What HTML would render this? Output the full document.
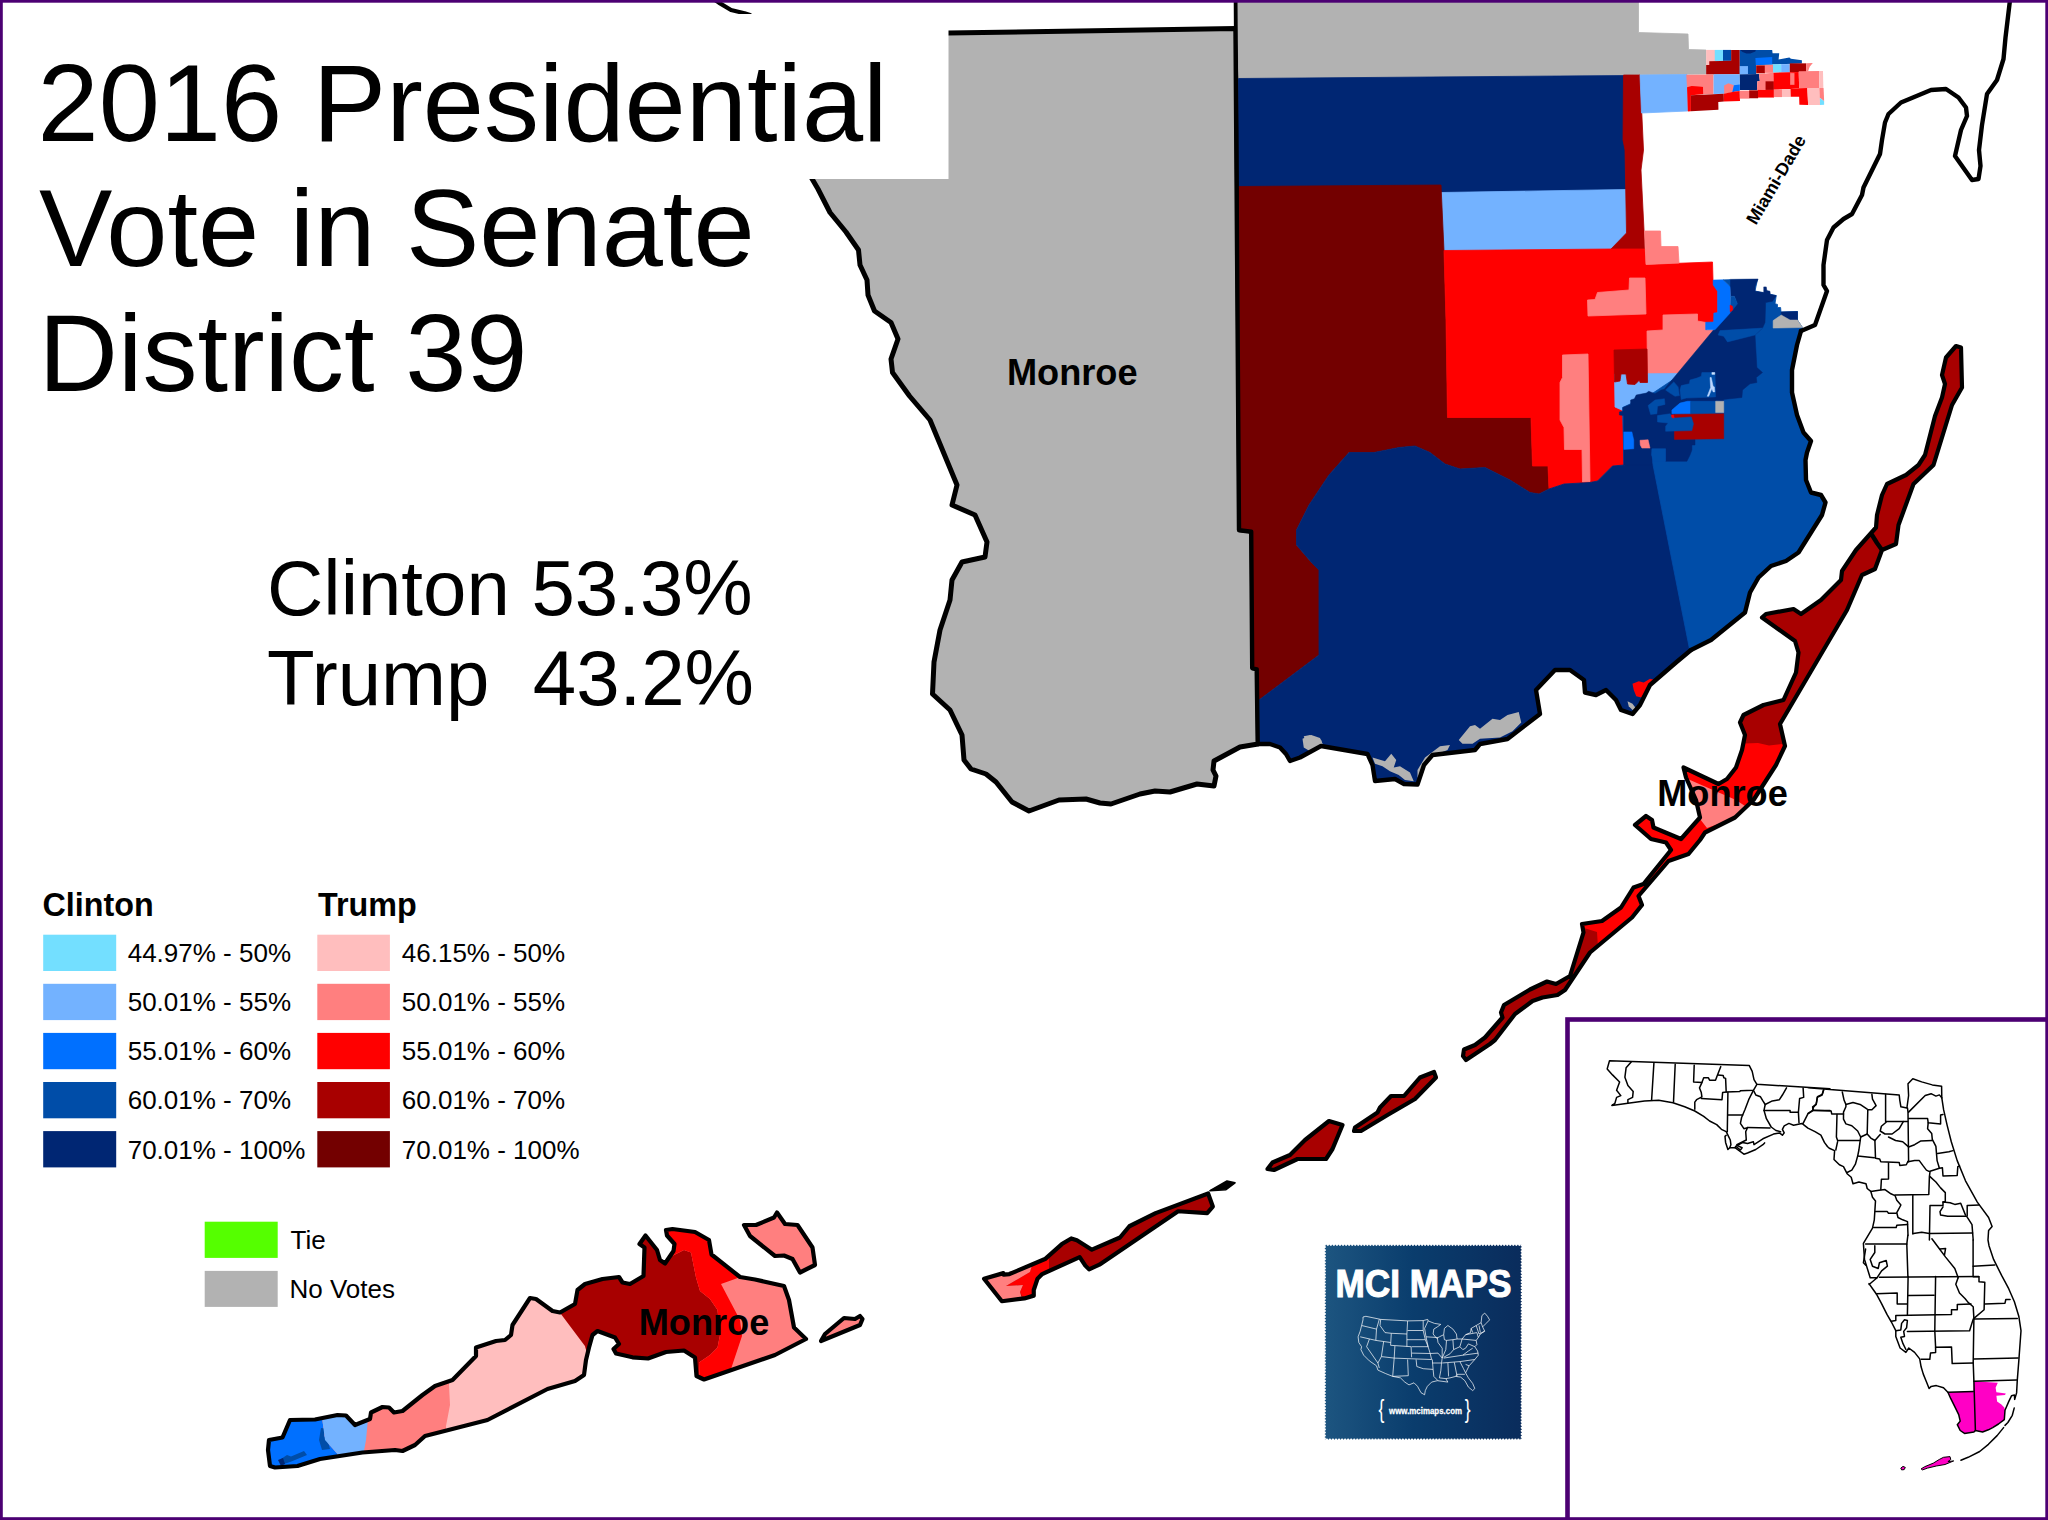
<!DOCTYPE html>
<html lang="en"><head><meta charset="utf-8"><title>2016 Presidential Vote in Senate District 39</title>
<style>
html,body{margin:0;padding:0;background:#fff;}
body{width:2048px;height:1520px;overflow:hidden;font-family:"Liberation Sans",sans-serif;}
svg{display:block;}
text{font-family:"Liberation Sans",sans-serif;fill:#000;}
.b{font-weight:bold;}
.o{stroke:#000;stroke-width:4.4;stroke-linejoin:round;stroke-linecap:round;}
.k{stroke:#000;stroke-width:4.2;stroke-linejoin:round;stroke-linecap:round;}
.c{fill:none;stroke:#000;stroke-width:1.5;stroke-linejoin:round;stroke-linecap:round;}
</style></head><body>
<svg width="2048" height="1520" viewBox="0 0 2048 1520">
<rect width="2048" height="1520" fill="#fff"/>
<g id="mainland">
<polyline class="k" points="712,-2 718.8,2.6 731,10 744.5,13.2 750,15" fill="none"/>
<polygon class="k" points="770,33.5 948,33 1235.8,28.5 1239.3,530 1251.5,531.5 1252.5,668 1257,669 1258,744 1240,747 1214,761 1213,770 1216,776 1214,786 1197,784 1170,792 1155,791 1140,794 1111,804 1100,803 1086,799 1059,800 1029,811 1012,802 996,782 986,774 971,769 964,760 962,735 950,710 932.5,694 934,662 940,630 950,600 952,580 962,562 985,557 987,542 975,515 952,505 957,485 930,420 909.5,396 892.5,372.5 891,359 898,339 891,322.5 874.5,311 868,295 867,280 860,265 858.5,250 846,232 830,212.5 818,189 812,178.75 800,160 780,120 770,80 770,33" fill="#B2B2B2" style="stroke-width:5"/>
<polygon stroke="#B2B2B2" stroke-width="0.8" stroke-linejoin="round" points="1236,0 1638.5,0 1638.5,32.5 1688,34 1688.5,49.5 1706,50 1706,74 1239,79.5" fill="#B2B2B2"/>
<polygon stroke="#002673" stroke-width="0.8" stroke-linejoin="round" points="1238.5,78.5 1624,75.5 1626,191 1441,193.5 1441,186 1239,188" fill="#002673"/>
<polygon stroke="#73B2FF" stroke-width="0.8" stroke-linejoin="round" points="1441,192.5 1626,189.5 1626.5,234 1611,249.5 1443,252" fill="#73B2FF"/>
<polygon stroke="#A80000" stroke-width="0.8" stroke-linejoin="round" points="1623.5,75 1640,75 1643.5,150 1641,170 1645,250 1610,250 1626.5,233 1625,150 1623,140" fill="#A80000"/>
<polygon stroke="#73B2FF" stroke-width="0.8" stroke-linejoin="round" points="1640,75 1687,74.5 1687.5,111 1641.5,113" fill="#73B2FF"/>
<polygon stroke="#730000" stroke-width="0.8" stroke-linejoin="round" points="1239,186.5 1441,185 1444,251 1446,320 1447.5,417.5 1531,417.5 1532.5,466 1548,466 1549,489 1539,494 1530,492.5 1510,480 1485,467.5 1460,469 1445,464 1430,452.5 1415,446 1399,447.5 1374,452.5 1349,452.5 1329,475 1309,505 1296.5,530 1296.5,545 1311.5,562.5 1319,570 1319,655 1259,700 1257.6,702 1257,669 1252.5,668 1251.5,531.5 1239.3,530" fill="#730000"/>
<polygon stroke="#FF0000" stroke-width="0.8" stroke-linejoin="round" points="1444,250.5 1611,249 1645,249 1646,264.5 1712.5,262 1713,280 1717.5,291 1717.5,312.5 1714,314 1714,321 1706,330 1677.5,373.5 1647.5,374 1647.5,383 1615,383 1615,406 1622.5,407.5 1624,465 1612.5,466 1597.5,481 1590,482.5 1564,484 1549,489 1548,466 1532.5,466 1531,417.5 1447.5,417.5 1446,320" fill="#FF0000"/>
<polygon stroke="#FF7F7F" stroke-width="0.8" stroke-linejoin="round" points="1644.5,231 1660.5,231 1661,246.5 1678,246.5 1679,263 1646,264.5" fill="#FF7F7F"/>
<polygon stroke="#FF7F7F" stroke-width="0.8" stroke-linejoin="round" points="1587.5,300 1595,299.5 1597.5,292.5 1629,290 1629.5,278 1645,278 1646,314 1588,316" fill="#FF7F7F"/>
<polygon stroke="#FF7F7F" stroke-width="0.8" stroke-linejoin="round" points="1663,315 1697.5,314 1697.5,321 1706,322.5 1706,330 1714.5,330 1677.5,373.5 1647.5,374 1647,331 1663,330" fill="#FF7F7F"/>
<polygon stroke="#FF7F7F" stroke-width="0.8" stroke-linejoin="round" points="1562.5,355 1588,354 1590,481.5 1582.5,482 1582,449.5 1564.5,449.5 1564,427.5 1560,420 1560,382.5 1562.5,377.5" fill="#FF7F7F"/>
<polygon stroke="#FF7F7F" stroke-width="0.8" stroke-linejoin="round" points="1640,440 1649,440 1650,449 1644,449" fill="#FF7F7F"/>
<polygon stroke="#73B2FF" stroke-width="0.8" stroke-linejoin="round" points="1614.5,374 1677.5,373.5 1665,390 1640,402 1624,411 1615,407" fill="#73B2FF"/>
<polygon stroke="#A80000" stroke-width="0.8" stroke-linejoin="round" points="1614,350 1647,349 1647.5,382.5 1640,382.5 1639.5,380 1635,384.5 1627.5,384 1626,374 1621,374 1620,381 1614.5,382" fill="#A80000"/>
<polygon stroke="#002673" stroke-width="0.8" stroke-linejoin="round" points="1259,700 1259,700 1319,655 1319,570 1311.5,562.5 1296.5,545 1296.5,530 1309,505 1329,475 1349,452.5 1374,452.5 1399,447.5 1415,446 1430,452.5 1445,464 1460,469 1485,467.5 1510,480 1530,492.5 1539,494 1549,489 1564,484 1590,482.5 1597.5,481 1612.5,466 1624,465 1651,449.5 1691,650 1676,662.5 1650,685 1640,705 1632.5,714 1621,710 1616,700 1606,690 1596,695 1585,692.5 1584,680 1570,670 1555,670 1536,690 1540,714 1507.5,739 1480,744 1475,750 1432.5,755 1424,765 1417.5,784.5 1404,784 1395,779 1375,781 1372.5,765 1367.5,754 1321,746 1300,757.5 1290,761 1286,754 1280,747.5 1270,744 1258,744 1257.6,702" fill="#002673"/>
<polygon stroke="#004DA8" stroke-width="0.8" stroke-linejoin="round" points="1650,449.5 1624,465 1622.5,407.5 1650,395 1680,375 1716,332 1738,305 1731,280 1757.5,279.5 1755,291 1776.25,295.6 1775,303.75 1777.5,304.4 1777.5,307.5 1780.6,307.5 1781,312 1797.5,311.5 1797.5,320 1802.5,327.5 1797,345 1792,370 1792,392.5 1797,415 1803.5,432.5 1811,441 1807,452.5 1805.5,460 1806,480 1811,492.5 1821,495 1825.5,502.5 1822,515 1798.5,552.5 1786,561 1771,566 1758.5,577.5 1750,592.5 1745,612.5 1711,640 1689.8,650.5" fill="#004DA8"/>
</g>
<g id="cluster">
<polygon points="1730,279.38 1758.12,279 1755,286.25 1755,291.25 1763.75,292.5 1763.75,286.88 1766.25,286.88 1766.88,290.62 1770,291.25 1770.25,294.38 1776.25,295.62 1772.5,301.25 1765.62,302.5 1765,322.5 1762.5,328.12 1755,335 1756.88,367.5 1762.5,372.5 1756.25,377.5 1756.88,382.5 1750,383.75 1742.5,390 1741.88,397.5 1730,398.75 1723.75,399.38 1723.12,401.25 1715.62,400.62 1715.62,401.25 1687.5,401.25 1680,403.12 1671.88,410 1671.88,413.75 1674.38,413.75 1674.38,439.38 1695,439.38 1695,445 1691.88,445 1691.88,450 1690,455 1686.88,461.25 1665.62,461.25 1665.62,448.75 1651.88,448.75 1651.88,465 1623.75,465 1623.75,415.62 1619.38,415 1619.38,411.88 1623.12,411.25 1623.12,407.5 1630.62,404.38 1630.62,400 1634.38,398.75 1636.25,395 1646.25,393.12 1648.75,391.25 1655,393.75 1661.25,390 1664.25,389.25 1714.25,329 1737,303.25 1734.38,296.25 1730.62,296.25 1730,286.25" fill="#002673" stroke="#002673" stroke-width="0.5" stroke-linejoin="round"/>
<polygon points="1720,330.62 1762.5,328.12 1755,335 1727.5,341.88 1723.75,336.25 1718.12,335" fill="#004DA8" stroke="#004DA8" stroke-width="0.5" stroke-linejoin="round"/>
<polygon points="1665.62,390 1673.75,381.88 1678.12,386.88 1679.38,395.62 1675,396.25 1670,393.12" fill="#004DA8" stroke="#004DA8" stroke-width="0.5" stroke-linejoin="round"/>
<polygon points="1681.25,385.62 1689.38,383.75 1690,380 1696.88,378.12 1701.25,376.25 1701.88,372.5 1715,372.5 1715.62,396.88 1686.25,398.12 1681.25,399.38 1680,390" fill="#004DA8" stroke="#004DA8" stroke-width="0.5" stroke-linejoin="round"/>
<polygon points="1711.88,372.5 1714.75,372.5 1714.75,374.38 1711.88,374.38" fill="#CFE3FF" stroke="#CFE3FF" stroke-width="0.5" stroke-linejoin="round"/>
<polygon points="1710,377.5 1711.25,377.5 1713.12,386.25 1714.38,386.88 1714.75,391.88 1713.12,391.88 1711.88,388.75 1708.75,396.25 1707.25,396.25 1710.62,387.5" fill="#BBD6FF" stroke="#BBD6FF" stroke-width="0.5" stroke-linejoin="round"/>
<polygon points="1671.88,410 1680,403.12 1687.5,401.25 1690.62,401.25 1690.62,413.75 1671.88,413.75" fill="#0070FF" stroke="#0070FF" stroke-width="0.5" stroke-linejoin="round"/>
<polygon points="1690.62,401.25 1715.62,401.25 1715.62,412.5 1723.75,412.5 1723.75,413.75 1690.62,413.75" fill="#004DA8" stroke="#004DA8" stroke-width="0.5" stroke-linejoin="round"/>
<polygon points="1715.62,401.25 1723.75,401.25 1723.75,412.5 1715.62,412.5" fill="#B2B2B2" stroke="#B2B2B2" stroke-width="0.5" stroke-linejoin="round"/>
<polygon points="1674.38,414.38 1723.75,413.75 1723.75,438.75 1674.38,439.38" fill="#A80000" stroke="#A80000" stroke-width="0.5" stroke-linejoin="round"/>
<polygon points="1657.5,415.62 1670,413.75 1675,418.12 1691.25,416.88 1693.5,423.75 1691.88,430.62 1665.62,431.25 1665.62,426.25 1668.12,423.12 1657.5,421.88" fill="#004DA8" stroke="#004DA8" stroke-width="0.5" stroke-linejoin="round"/>
<polygon points="1671.25,415 1673.75,414.75 1674,418.12 1671.88,417.5" fill="#FF0000" stroke="#FF0000" stroke-width="0.5" stroke-linejoin="round"/>
<polygon points="1648.12,405.62 1655,400 1664.38,398.75 1665,404.38 1657.5,406.25 1656.88,413.75 1650.62,414.38" fill="#004DA8" stroke="#004DA8" stroke-width="0.5" stroke-linejoin="round"/>
<polygon points="1651.88,448.75 1665.62,448.75 1665.62,461.25 1653.75,461.25 1651.5,455" fill="#004DA8" stroke="#004DA8" stroke-width="0.5" stroke-linejoin="round"/>
<polygon points="1623.75,431.88 1631.88,431.88 1633.75,440 1633.75,448.75 1623.75,449.38" fill="#0070FF" stroke="#0070FF" stroke-width="0.5" stroke-linejoin="round"/>
<polygon points="1640,440.25 1648.12,439.75 1650,448.12 1641.88,448.12 1640.25,445" fill="#FF7F7F" stroke="#FF7F7F" stroke-width="0.5" stroke-linejoin="round"/>
<polygon points="1713.12,280 1723.12,279.75 1730,286.25 1730.62,312.5 1715,329.75 1705.62,329.75 1705.62,322.25 1713.5,321.88 1713.75,313.12 1717.5,312.5 1717.5,291.25 1713.12,285" fill="#0070FF" stroke="#0070FF" stroke-width="0.5" stroke-linejoin="round"/>
<polygon points="1723.12,279.75 1730,279.5 1730,286.25" fill="#004DA8" stroke="#004DA8" stroke-width="0.5" stroke-linejoin="round"/>
<polygon points="1730.62,296.25 1734.38,296.25 1737.5,303.75 1730.62,312.5" fill="#004DA8" stroke="#004DA8" stroke-width="0.5" stroke-linejoin="round"/>
<polygon points="1730,305 1732.5,306.25 1732.75,310 1730.25,311.88" fill="#FF0000" stroke="#FF0000" stroke-width="0.5" stroke-linejoin="round"/>
<polygon points="1781.25,311.88 1797.5,311.5 1797.5,320 1790,320 1781.25,315" fill="#002673" stroke="#002673" stroke-width="0.5" stroke-linejoin="round"/>
<polygon points="1773.12,320.62 1781.25,315 1790,320 1797.5,320 1802.5,327.5 1773.12,328.12" fill="#B2B2B2" stroke="#B2B2B2" stroke-width="0.5" stroke-linejoin="round"/>
</g>
<g id="mosaic">
<polygon points="1706.17,49.91 1715.16,49.91 1715.16,65.06 1706.17,65.06" fill="#FFBEBE"/>
<polygon points="1714.77,49.91 1723.12,49.91 1723.12,61.16 1714.77,61.16" fill="#73DFFF"/>
<polygon points="1722.97,49.91 1731.33,49.91 1731.33,60.84 1722.97,60.84" fill="#004DA8"/>
<polygon points="1731.17,50.06 1739.77,50.06 1739.77,74.28 1706.17,74.44 1706.17,65.06 1709.3,64.91 1709.3,61.16 1731.17,60.69" fill="#A80000"/>
<polygon points="1739.77,49.91 1772.19,49.91 1772.58,53.34 1779.22,53.19 1778.59,59.44 1789.38,57.48 1790.94,58.66 1801.88,60.22 1801.88,63.5 1756.17,65.06 1756.17,74.28 1739.77,74.44" fill="#004DA8"/>
<polygon points="1740.16,49.91 1755.78,49.91 1755.39,51.62 1750.31,53.58 1746.41,53.58 1742.5,52.02" fill="#002673"/>
<polygon points="1755.39,57.88 1772.19,57.09 1772.19,64.28 1755.78,65.06" fill="#0070FF"/>
<polygon points="1739.77,66.08 1747.97,66.08 1747.97,74.28 1739.77,74.28" fill="#73B2FF"/>
<polygon points="1756.17,65.3 1765,65.3 1765,73.34 1756.17,73.34" fill="#A80000"/>
<polygon points="1764.77,64.91 1773.36,64.91 1773.36,72.88 1764.77,72.88" fill="#FF7F7F"/>
<polygon points="1772.97,64.28 1781.41,64.28 1781.41,72.56 1772.97,72.56" fill="#73DFFF"/>
<polygon points="1781.17,64.12 1789.77,64.12 1789.77,72.41 1781.17,72.41" fill="#73B2FF"/>
<polygon points="1789.77,63.34 1806.17,63.34 1806.17,72.09 1789.77,72.09" fill="#A80000"/>
<polygon points="1806.17,63.19 1812.81,62.95 1809.69,66.86 1808.12,71.31 1806.17,71.55" fill="#FF7F7F"/>
<polygon points="1686.25,74.83 1713.59,74.44 1713.59,93.97 1703.44,94.2 1703.05,86.78 1687.03,87.17" fill="#FF7F7F"/>
<polygon points="1687.03,87.17 1691.72,86 1703.05,86.78 1703.44,94.2 1690.94,95.22 1690.94,111.16 1687.81,111.39" fill="#FF0000"/>
<polygon points="1713.59,74.28 1739.77,74.28 1739.77,90.69 1734.69,91.62 1723.75,93.81 1713.59,93.97" fill="#73B2FF"/>
<polygon points="1724.14,85.61 1728.44,83.27 1733.91,85.22 1732.34,92.25 1724.14,93.66" fill="#FF7F7F"/>
<polygon points="1733.91,85.22 1739.77,84.59 1739.77,90.69 1734.69,91.62 1732.19,92.41" fill="#0070FF"/>
<polygon points="1739.77,74.44 1758.91,73.89 1759.53,78.19 1759.84,80.92 1757.34,81.31 1756.95,89.91 1740,90.06" fill="#002673"/>
<polygon points="1758.91,73.89 1773.36,72.72 1773.75,89.75 1756.95,90.06 1757.34,81.31 1759.84,80.92" fill="#FF7F7F"/>
<polygon points="1765.55,81.31 1773.91,81.31 1773.91,89.91 1765.55,89.91" fill="#A80000"/>
<polygon points="1773.36,72.72 1798.75,72.09 1799.14,88.19 1790.55,89.12 1773.75,89.75" fill="#FF0000"/>
<polygon points="1790.16,73.11 1794.45,73.11 1794.45,84.83 1790.16,84.83" fill="#FF7F7F"/>
<polygon points="1798.75,71.31 1819.06,71 1819.45,87.95 1799.14,88.19" fill="#FF7F7F"/>
<polygon points="1819.06,71 1822.97,71 1823.36,87.95 1819.45,87.95" fill="#FFBEBE"/>
<polygon points="1690.94,95.22 1723.75,93.81 1723.91,101.62 1718.28,102.02 1718.44,109.83 1690.94,111.16" fill="#A80000"/>
<polygon points="1723.75,93.81 1734.69,91.62 1739.77,91.08 1740,101 1723.91,101.62" fill="#FF0000"/>
<polygon points="1739.77,90.69 1749.38,90.69 1749.38,98.66 1739.77,98.66" fill="#FF7F7F"/>
<polygon points="1749.14,90.3 1758.12,90.3 1758.12,98.27 1749.14,98.27" fill="#A80000"/>
<polygon points="1757.97,89.91 1773.98,89.91 1773.98,97.56 1757.97,97.56" fill="#FF0000"/>
<polygon points="1773.75,89.52 1782.19,89.52 1782.19,97.09 1773.75,97.09" fill="#FF7F7F"/>
<polygon points="1781.95,89.12 1790.78,89.12 1790.78,96.94 1781.95,96.94" fill="#FFBEBE"/>
<polygon points="1790.55,89.12 1799.14,88.19 1807.34,87.95 1808.12,104.91 1799.38,104.75 1799.14,96.78 1790.78,96.78" fill="#FF0000"/>
<polygon points="1807.34,87.95 1819.84,87.95 1820,104.91 1808.12,104.91" fill="#FFBEBE"/>
<polygon points="1819.45,87.95 1823.59,87.95 1824.14,101.23 1819.84,97.72" fill="#FF7F7F"/>
<polygon points="1819.84,97.72 1824.14,101.23 1824.14,104.75 1820,104.91" fill="#73DFFF"/>
</g>
<g id="outlines">
<polygon points="1302.5,738.75 1311.25,735 1320,738 1323.75,746.25 1310,751.25 1303.75,747.5" fill="#B2B2B2"/>
<polygon points="1372.5,757.5 1385,761.25 1391.25,753.75 1396.25,760 1393.75,767.5 1400,766.25 1410,772.5 1413.75,781.25 1405,780 1398.75,775 1390,771.25 1382.5,766.25 1375,763.75" fill="#B2B2B2"/>
<polygon points="1417.5,770 1425,757.5 1440,746.25 1450,745 1447.5,750 1435,755 1426.25,763.75 1422.5,775 1417.5,777.5" fill="#B2B2B2"/>
<polygon points="1458.75,740 1470,726.25 1475,725 1480,728.75 1492.5,718.75 1500,720 1507.5,715 1518.75,712 1521.25,722.5 1512.5,731.25 1500,737.5 1480,738.75 1472.5,743.75 1462.5,743.75" fill="#B2B2B2"/>
<polygon points="1627.5,701.25 1632.5,703.75 1636.25,708.75 1632.5,710 1628.75,706.25" fill="#B2B2B2"/>
<polygon points="1632.5,683.75 1638.75,681.25 1643.75,682.5 1650,678.75 1655,680 1646.25,690 1641.25,697.5 1636.25,696.25 1633.75,690" fill="#FF0000"/>
<polygon points="1303.75,736.25 1310,735 1321.25,740 1322.5,746.25 1310,751.25 1306.25,743.75" fill="#B2B2B2"/>
<polyline class="o" points="1258,744 1270,744 1280,747.5 1286,754 1290,761 1300,757.5 1321,746 1367.5,754 1372.5,765 1375,781 1395,779 1404,784 1417.5,784.5 1424,765 1432.5,755 1475,750 1480,744 1507.5,739 1540,714 1536,690 1555,670 1570,670 1584,680 1585,692.5 1596,695 1606,690 1616,700 1621,710 1632.5,714 1640,705 1650,685 1676,662.5 1691,650" fill="none"/>
<polyline class="o" points="1691,650 1711,640 1745,612.5 1750,592.5 1758.5,577.5 1771,566 1786,561 1798.5,552.5 1822,515 1825.5,502.5 1821,495 1811,492.5 1806,480 1805.5,460 1807,452.5 1811,441 1803.5,432.5 1797,415 1792,392.5 1792,370 1797,345 1801,331" fill="none"/>
<polyline class="o" points="1801,331 1815,325 1827,291 1823.5,285 1823.5,265 1827,240 1833.5,227.5 1843.5,219 1852,214 1862,195 1863.5,187.5 1880,154 1882,140 1885,122.5 1888.5,114 1901,102.5 1931,90 1946,89 1958.5,97.5 1966,107.5 1967,116 1961,130 1955,156 1972,180 1978.5,179 1980.5,166 1979,150 1982,125 1987,94 1997,80 2003.5,59 2005.5,37.5 2010,0" fill="none"/>
<polyline class="k" points="1235.6,0 1235.8,28.5 1239.3,530 1251.5,531.5 1252.5,668 1257,669 1258,744" fill="none" style="stroke-width:3.8"/>
<text class="b" x="1006.9" y="385" font-size="36.2">Monroe</text>
<text class="b" transform="translate(1755.9,225.8) rotate(-59.5)" font-size="17.8">Miami-Dade</text>
</g>
<defs>
<clipPath id="ckA"><polygon points="1956,346 1946,357.5 1942,375 1945,384 1942,397.5 1935,416 1925,455 1918.5,465 1906,475 1887,484 1882,495 1877,515 1876,527.5 1856,550 1842,571 1841,580 1821,600 1801,614 1793.5,609 1766,614 1762,617.5 1795,641 1798.5,652.5 1796,672.5 1783.5,700 1763.5,705 1743.5,715 1740,722.5 1745,735 1742,750 1736,767.5 1727,779 1718.5,784 1683.5,767.5 1686,777.5 1696,800 1700,817.5 1681,839 1653.5,827.5 1652,820 1646,816 1635,825 1651,839 1666,842.5 1671,850 1643.5,884 1633.5,887.5 1621,907.5 1602,921 1582,924 1583.5,932.5 1570,976 1556,984 1547,981.5 1530,989.5 1504,1005 1501,1012.5 1502.5,1017.5 1485,1037.5 1475,1045 1464,1049.5 1463,1056 1466,1060 1490,1044 1495,1040 1515,1014 1532.5,1001 1542.5,997.5 1557.5,995 1565,990 1590,952.5 1632,917.5 1642,905 1638.5,896 1668.5,861 1688.5,854 1700,840 1705,832.5 1735,817.5 1753.5,800 1776,765 1785,746 1780,724 1847,610 1862,575 1875,569 1882,550 1896,544 1898.5,525 1913.5,484 1933.5,465 1952,405 1962,387.5 1961,347.5"/></clipPath>
<clipPath id="ckE"><polygon points="1208.13,1193.44 1155.63,1213.13 1129.38,1226.25 1120,1237.5 1091.88,1249.69 1076.88,1240.31 1071.25,1238.44 1061.88,1244.06 1045,1259.06 1009.38,1274.06 1003.75,1274.63 1003.38,1273.13 984.06,1278.75 1001.88,1301.25 1024.38,1298.44 1033.75,1295.63 1033.75,1290 1037.5,1278.75 1042.19,1274.06 1079.69,1257.19 1085.31,1265.63 1089.06,1269.38 1099.38,1264.69 1178.13,1211.25 1207.19,1213.13 1212.81,1206.56"/></clipPath>
<clipPath id="ckW"><polygon points="269,1440 282.5,1437.5 290,1420 315,1419.5 337.5,1415 346,1415.5 355,1425 370,1419 371,1412.5 382.5,1407 389,1407.5 394,1412.5 402.5,1411 422.5,1395 435,1386 452.5,1380 476,1356 476,1347.5 496,1341 505,1340 511,1335 512.5,1325 530,1298 536,1299 552.5,1311 560,1312.5 575,1304 577.5,1290 585,1284 602.5,1279 619,1277 622.5,1282.5 630,1284 643.5,1276 644.5,1247.5 639.5,1244 645.5,1235.5 657,1250 660,1260 665,1263.5 673.5,1251 674.5,1244 667,1235.5 666,1230 672.5,1229 695,1232 709,1240 711.5,1254.5 740,1277 755,1279.5 784,1286 789,1300 794,1327.5 806,1339 775,1355 704,1379.5 696.5,1376 695,1357.5 684,1350.5 666,1352 648,1358.5 632.5,1357.3 616,1353.5 613.5,1349 619,1344 615,1337.5 597.5,1331 592.5,1335 589,1347.5 586,1360 584,1375 575,1381 547.5,1389 487.5,1420 425,1436 415,1445 402.5,1451 395,1450 362.5,1452.5 320,1459 297.5,1466 275,1467.5 270,1466 268,1450"/></clipPath>
</defs>
<g id="keys">
<g clip-path="url(#ckA)">
<rect x="1440" y="330" width="540" height="760" fill="#A80000"/>
<polygon points="1700,745 1758,743 1769,745.5 1800,742 1800,800 1640,960 1598,948 1597,932 1584,928 1570,900 1600,760" fill="#FF0000"/>
<polygon points="1686,778 1690,780 1736,800 1745,806 1735,818 1707,828 1700,819 1696,800" fill="#FF7F7F"/>
</g>
<polygon class="k" points="1956,346 1946,357.5 1942,375 1945,384 1942,397.5 1935,416 1925,455 1918.5,465 1906,475 1887,484 1882,495 1877,515 1876,527.5 1856,550 1842,571 1841,580 1821,600 1801,614 1793.5,609 1766,614 1762,617.5 1795,641 1798.5,652.5 1796,672.5 1783.5,700 1763.5,705 1743.5,715 1740,722.5 1745,735 1742,750 1736,767.5 1727,779 1718.5,784 1683.5,767.5 1686,777.5 1696,800 1700,817.5 1681,839 1653.5,827.5 1652,820 1646,816 1635,825 1651,839 1666,842.5 1671,850 1643.5,884 1633.5,887.5 1621,907.5 1602,921 1582,924 1583.5,932.5 1570,976 1556,984 1547,981.5 1530,989.5 1504,1005 1501,1012.5 1502.5,1017.5 1485,1037.5 1475,1045 1464,1049.5 1463,1056 1466,1060 1490,1044 1495,1040 1515,1014 1532.5,1001 1542.5,997.5 1557.5,995 1565,990 1590,952.5 1632,917.5 1642,905 1638.5,896 1668.5,861 1688.5,854 1700,840 1705,832.5 1735,817.5 1753.5,800 1776,765 1785,746 1780,724 1847,610 1862,575 1875,569 1882,550 1896,544 1898.5,525 1913.5,484 1933.5,465 1952,405 1962,387.5 1961,347.5" fill="none"/>
<polyline class="o" points="1872,535 1877,543 1882,550" fill="none"/>
<polygon class="k" points="1434,1072 1420,1077.5 1404,1096 1391,1096 1380,1107.5 1377.5,1112.5 1355,1127.5 1354,1131 1361,1131 1387.5,1115 1415,1099 1436,1077.5" fill="#A80000"/>
<polygon class="k" points="1329,1121 1342.5,1125 1332.5,1149 1326,1159 1297.5,1159 1274,1170 1267.5,1169 1272.5,1162.5 1290,1155 1305,1140" fill="#A80000"/>
<polygon class="o" points="1210,1190.6 1227,1181 1235,1182.8 1226,1189.7" fill="#000" style="stroke-width:1.6"/>
<g clip-path="url(#ckE)">
<rect x="970" y="1180" width="260" height="130" fill="#A80000"/>
<polygon points="1049,1250 1049,1270 1040,1300 1024,1300 1020,1292 1023,1285 1006,1286 1030,1272 1033,1262" fill="#FF0000"/>
<polygon points="975,1270 1033,1262 1030,1272 1006,1286 1023,1285 1020,1292 1024,1305 990,1310" fill="#FF7F7F"/>
</g>
<polygon class="k" points="1208.13,1193.44 1155.63,1213.13 1129.38,1226.25 1120,1237.5 1091.88,1249.69 1076.88,1240.31 1071.25,1238.44 1061.88,1244.06 1045,1259.06 1009.38,1274.06 1003.75,1274.63 1003.38,1273.13 984.06,1278.75 1001.88,1301.25 1024.38,1298.44 1033.75,1295.63 1033.75,1290 1037.5,1278.75 1042.19,1274.06 1079.69,1257.19 1085.31,1265.63 1089.06,1269.38 1099.38,1264.69 1178.13,1211.25 1207.19,1213.13 1212.81,1206.56" fill="none"/>
<g clip-path="url(#ckW)">
<rect x="250" y="1200" width="600" height="300" fill="#FF7F7F"/>
<polygon points="250,1400 322.5,1400 322.5,1421 325,1440 337.5,1454 337.5,1480 250,1480" fill="#0070FF"/>
<polygon points="321,1428 325,1428.5 324,1436 328,1442 330,1449 322,1450 319,1440" fill="#004DA8"/>
<polygon points="281,1459 287,1455 291,1456.5 304,1451 307,1455 295,1460 290,1462 284,1464" fill="#004DA8"/>
<polygon points="278,1460 283,1458 285,1464 281,1466" fill="#002673"/>
<polygon points="322.5,1400 368,1400 367.5,1424 366,1440 364,1451 364,1480 337.5,1480 337.5,1454 325,1440 322.5,1421" fill="#73B2FF"/>
<polygon points="449,1370 449,1385 450,1405 446,1426 446,1440 600,1400 585,1346 561,1314 555,1280 500,1290" fill="#FFBEBE"/>
<polygon points="561,1314 585,1346 600,1400 700,1400 699,1362.5 710,1355 717.5,1347.5 720,1335 717.5,1310 710,1299 700,1291 696,1277.5 691,1252.5 684,1250 672,1256 660,1220 580,1220 555,1290" fill="#A80000"/>
<polygon points="684,1250 691,1252.5 696,1277.5 700,1291 710,1299 717.5,1310 720,1335 717.5,1347.5 710,1355 699,1362.5 700,1400 731,1369 742,1336 740,1320 721,1284 735,1279 745,1275 720,1220 660,1220 672,1256" fill="#FF0000"/>
</g>
<polygon class="k" points="269,1440 282.5,1437.5 290,1420 315,1419.5 337.5,1415 346,1415.5 355,1425 370,1419 371,1412.5 382.5,1407 389,1407.5 394,1412.5 402.5,1411 422.5,1395 435,1386 452.5,1380 476,1356 476,1347.5 496,1341 505,1340 511,1335 512.5,1325 530,1298 536,1299 552.5,1311 560,1312.5 575,1304 577.5,1290 585,1284 602.5,1279 619,1277 622.5,1282.5 630,1284 643.5,1276 644.5,1247.5 639.5,1244 645.5,1235.5 657,1250 660,1260 665,1263.5 673.5,1251 674.5,1244 667,1235.5 666,1230 672.5,1229 695,1232 709,1240 711.5,1254.5 740,1277 755,1279.5 784,1286 789,1300 794,1327.5 806,1339 775,1355 704,1379.5 696.5,1376 695,1357.5 684,1350.5 666,1352 648,1358.5 632.5,1357.3 616,1353.5 613.5,1349 619,1344 615,1337.5 597.5,1331 592.5,1335 589,1347.5 586,1360 584,1375 575,1381 547.5,1389 487.5,1420 425,1436 415,1445 402.5,1451 395,1450 362.5,1452.5 320,1459 297.5,1466 275,1467.5 270,1466 268,1450" fill="none"/>
<polygon class="k" points="744,1225 756,1225 774,1217.5 777,1212.5 785,1224 797.5,1225 812.5,1247.5 815,1265 800,1272.5 792.5,1259 784,1255.5 775,1256 750,1236" fill="#FF7F7F"/>
<polygon class="k" points="821,1341 825,1334 844,1318 855,1319 860,1316 862.5,1319 860,1325" fill="#FF7F7F"/>
<text class="b" x="1657.2" y="806" font-size="36.2">Monroe</text>
<text class="b" x="638.7" y="1334.5" font-size="36.2">Monroe</text>
</g>
<g id="title">
<rect x="0" y="14" width="948.5" height="165" fill="#fff"/>
<text x="37.5" y="140.5" font-size="110">2016 Presidential</text>
<text x="39" y="265.5" font-size="110">Vote in Senate</text>
<text x="38.5" y="391" font-size="110">District 39</text>
<text x="267" y="615" font-size="78" xml:space="preserve">Clinton 53.3%</text>
<text x="267" y="705" font-size="78" xml:space="preserve">Trump  43.2%</text>
</g>
<g id="legend">
<text class="b" x="42.5" y="915.5" font-size="32.3">Clinton</text>
<text class="b" x="318" y="915.5" font-size="32.3">Trump</text>
<rect x="43.2" y="934.7" width="73" height="36.3" fill="#73DFFF"/><text x="127.7" y="962.1" font-size="26">44.97% - 50%</text>
<rect x="43.2" y="983.8" width="73" height="36.3" fill="#73B2FF"/><text x="127.7" y="1011.2" font-size="26">50.01% - 55%</text>
<rect x="43.2" y="1032.9" width="73" height="36.3" fill="#0070FF"/><text x="127.7" y="1060.3" font-size="26">55.01% - 60%</text>
<rect x="43.2" y="1082.0" width="73" height="36.3" fill="#004DA8"/><text x="127.7" y="1109.4" font-size="26">60.01% - 70%</text>
<rect x="43.2" y="1131.1" width="73" height="36.3" fill="#002673"/><text x="127.7" y="1158.5" font-size="26">70.01% - 100%</text>
<rect x="317.3" y="934.7" width="72.6" height="36.3" fill="#FFBEBE"/><text x="401.8" y="962.1" font-size="26">46.15% - 50%</text>
<rect x="317.3" y="983.8" width="72.6" height="36.3" fill="#FF7F7F"/><text x="401.8" y="1011.2" font-size="26">50.01% - 55%</text>
<rect x="317.3" y="1032.9" width="72.6" height="36.3" fill="#FF0000"/><text x="401.8" y="1060.3" font-size="26">55.01% - 60%</text>
<rect x="317.3" y="1082.0" width="72.6" height="36.3" fill="#A80000"/><text x="401.8" y="1109.4" font-size="26">60.01% - 70%</text>
<rect x="317.3" y="1131.1" width="72.6" height="36.3" fill="#730000"/><text x="401.8" y="1158.5" font-size="26">70.01% - 100%</text>
<rect x="204.7" y="1221.7" width="73" height="36.2" fill="#55FF00"/><text x="290.5" y="1249.1" font-size="26">Tie</text>
<rect x="204.7" y="1270.9" width="73" height="36" fill="#B2B2B2"/><text x="289.5" y="1298" font-size="26">No Votes</text>
</g>
<g id="logo">
<defs><linearGradient id="lg" x1="0" y1="0" x2="1" y2="0"><stop offset="0" stop-color="#1D5580"/><stop offset="0.45" stop-color="#0A3D6D"/><stop offset="1" stop-color="#0A2C5C"/></linearGradient></defs>
<rect x="1324.8" y="1244.8" width="197" height="194.8" fill="url(#lg)"/>
<rect x="1324.8" y="1244.8" width="197" height="194.8" fill="none" stroke="#fff" stroke-width="2.3" stroke-linecap="round" stroke-dasharray="0.01 3.03"/>
<text x="1335.5" y="1296.6" font-size="39" font-weight="bold" style="fill:#fff;stroke:#fff;stroke-width:1.1" textLength="176" lengthAdjust="spacingAndGlyphs">MCI MAPS</text>
<text x="1389" y="1413.7" font-size="9.6" font-weight="bold" style="fill:#fff;stroke:#fff;stroke-width:0.3" textLength="73" lengthAdjust="spacingAndGlyphs">www.mcimaps.com</text>
<text x="1378.6" y="1418.5" font-size="25" style="fill:#fff" transform="translate(1378.6 0) scale(0.7 1) translate(-1378.6 0)">{</text>
<text x="1464.8" y="1418.5" font-size="25" style="fill:#fff" transform="translate(1464.8 0) scale(0.7 1) translate(-1464.8 0)">}</text>
<g fill="none" stroke="#fff" stroke-width="0.75" stroke-opacity="0.95" stroke-linejoin="round">
<polyline points="1363,1317 1365.9,1316.3 1380.7,1319.4 1407.6,1320.9 1423.2,1320.6 1427.7,1319.4 1428.1,1320.9 1434.5,1323.4 1440.8,1324.4 1437.3,1326.9 1433.8,1329.1 1433.1,1334 1436.6,1338.3 1439.4,1336.8 1443.7,1334.7 1444.4,1328.4 1447.9,1325.5 1452.9,1329.1 1456.4,1334 1457.1,1339 1462.1,1339 1465.6,1334.7 1470.5,1332.6 1471.2,1328.4 1476.2,1325.5 1481.1,1322.7 1481.9,1315.6 1484.7,1313.1 1487.5,1316.3 1489.6,1319.9 1486.1,1323.4 1482.6,1326.9 1484.7,1331.2 1480.4,1334 1478.3,1337.5 1476.2,1340.4 1476.9,1344.6 1474.8,1346.7 1477.6,1351 1478.3,1355.2 1474.8,1359.5 1469.1,1365.8 1465.6,1372.9 1468.4,1377.9 1472.7,1383.5 1474.8,1388.5 1472.7,1390.6 1468.4,1387.1 1464.9,1380.7 1460.6,1377.1 1455.7,1376.4 1450,1377.9 1445.8,1378.6 1447.9,1382.1 1443,1381.4 1437.3,1380.7 1431.6,1382.1 1427.4,1386.3 1425.3,1390.6 1424.6,1394.8 1421,1392.7 1417.5,1386.3 1414,1382.8 1409,1384.9 1404.8,1382.1 1400.5,1377.9 1392.7,1376.4 1385.7,1373.6 1377.9,1370.1 1376.5,1365.8 1369.4,1360.9 1363.7,1355.2 1360.9,1349.6 1361.6,1346.7 1358.8,1342.5 1358.1,1336.8 1360.2,1331.2 1361.6,1325.5 1363,1319.9 1363,1317"/>
<polyline points="1361.6,1325.5 1376.5,1329.1 1379.3,1319.2"/>
<polyline points="1380.7,1319.4 1380,1325.5 1385,1332.6 1391.3,1333.3 1390.6,1345.3"/>
<polyline points="1360.2,1336.8 1375.8,1340.4 1376.5,1329.1"/>
<polyline points="1369.4,1339 1366.6,1346.7 1377.9,1363 1379.3,1368"/>
<polyline points="1375.8,1340.4 1390.6,1342.5"/>
<polyline points="1383.6,1341.8 1381.4,1356.6 1377.9,1363"/>
<polyline points="1391.3,1333.3 1406.9,1334 1407.6,1320.9"/>
<polyline points="1390.6,1345.3 1411.1,1346.7 1411.6,1357.3"/>
<polyline points="1406.9,1334 1406.9,1346.7"/>
<polyline points="1381.4,1356.6 1394.2,1358.1 1392.7,1376.4"/>
<polyline points="1394.9,1346 1394.2,1358.1 1411.8,1358.8"/>
<polyline points="1407.6,1359.5 1408.3,1375.7 1392.7,1376.4"/>
<polyline points="1407.6,1330.5 1423.2,1330.5 1423.2,1320.6"/>
<polyline points="1406.9,1339.7 1425.3,1339.7 1428.1,1346.7 1411.6,1346.7"/>
<polyline points="1423.2,1330.5 1425.3,1339.7"/>
<polyline points="1411.8,1353.1 1430.2,1353.5 1431.6,1359.5 1411.8,1358.8"/>
<polyline points="1416.1,1359.5 1416.8,1366.5 1423.2,1368.7 1433.1,1369.4 1432.3,1359.5"/>
<polyline points="1428.1,1320.9 1424.6,1328.4 1426,1336.8 1437.3,1337.5"/>
<polyline points="1426,1336.8 1428.1,1346.7 1430.2,1353.5 1438,1353.1 1442.2,1358.1"/>
<polyline points="1433.1,1369.4 1433.8,1376.4 1438,1380.7"/>
<polyline points="1432.3,1363 1441.5,1363 1442.2,1358.1"/>
<polyline points="1441.5,1363 1440.8,1370.8 1439.4,1377.9 1445.8,1378.6"/>
<polyline points="1437.3,1337.5 1438,1342.5 1442.2,1348.2 1442.2,1358.1"/>
<polyline points="1443.7,1334.7 1444.4,1339.7 1446.5,1340.4 1445.8,1349.6 1442.2,1358.1"/>
<polyline points="1446.5,1340.4 1452.9,1339.7 1453.6,1349.6 1450,1353.8 1443.7,1357.3"/>
<polyline points="1452.9,1339.7 1457.1,1339"/>
<polyline points="1453.6,1349.6 1459.9,1346.7 1462.1,1339"/>
<polyline points="1443.7,1358.1 1462.8,1355.2 1478.3,1353.1"/>
<polyline points="1442.2,1363 1459.9,1361.6 1474.8,1359.5"/>
<polyline points="1447.9,1363 1448.6,1376.4"/>
<polyline points="1454.3,1362.3 1457.1,1376.4"/>
<polyline points="1459.9,1361.6 1463.5,1368.7 1465.6,1372.9"/>
<polyline points="1465.6,1364.4 1469.1,1365.8"/>
<polyline points="1455.7,1376.4 1457.1,1374.3 1464.9,1374.3"/>
<polyline points="1459.9,1346.7 1462.8,1349.6 1465.6,1348.2 1468.4,1343.9 1474.8,1346.7"/>
<polyline points="1462.8,1355.2 1468.4,1351 1472.7,1348.2"/>
<polyline points="1462.1,1339 1476.2,1340.4"/>
<polyline points="1465.6,1334.7 1476.9,1332.6 1478.3,1337.5"/>
<polyline points="1471.2,1328.4 1472.7,1332.6"/>
<polyline points="1476.2,1325.5 1479,1334"/>
<polyline points="1479,1325.5 1480.4,1332.6"/>
<polyline points="1481.1,1322.7 1482.6,1326.9"/>
<polyline points="1479,1334 1484.7,1331.2"/>
</g>
</g>
<g id="inset">
<polygon points="1947.9,1392.2 1973.2,1391.4 1973.9,1381.3 1985.5,1382 1997.8,1382.7 1995.6,1387.8 1996.4,1392.2 2005.8,1393.6 2005,1395.1 1996.4,1395.8 1997.1,1401.6 2001.4,1404.5 2004.3,1407.4 2005,1410.2 2004.3,1419.7 1998.5,1424 1992.7,1427.6 1988.4,1429.8 1982.6,1432 1975.4,1430.5 1973.9,1432 1964.5,1433.4 1960.2,1430.5 1957.3,1424.7 1960.2,1421.1 1958.7,1414.6 1954.4,1405.9 1950.8,1398.7" fill="#FF00C5"/>
<polygon points="1921.1,1468.9 1924.7,1466.7 1933.4,1463.1 1939.2,1459.5 1943.5,1457.3 1950,1456.6 1950.8,1459.5 1947.9,1461.6 1953.7,1460.9 1945,1464.5 1936.3,1466 1927.6,1468.1 1922.5,1469.9" fill="#FF00C5" stroke="#000" stroke-width="1"/>
<polygon points="1900.8,1468.1 1903,1466.4 1905.3,1467.4 1904.2,1469.6 1901.6,1469.9" fill="#FF00C5" stroke="#000" stroke-width="1"/>
<g class="c" stroke-width="1.65">
<polyline points="1611.9,1105.4 1614.9,1103.3 1616.6,1097.4 1620.8,1095.6 1616.6,1090.3 1619.6,1082 1612.5,1074.9 1607.2,1068.9 1609.5,1060.7 1749.2,1065.4 1752.2,1071.3 1754,1079.6 1756.9,1084.3 1830,1088.8 1808,1087.8 1899.2,1094.9 1899.8,1100.3 1900.9,1106.8 1906.9,1108 1908.6,1095.5 1908,1083.7 1912.8,1078.7 1921.7,1081.9 1932.3,1084.9 1941.6,1086.3 1941.8,1097.9 1943.6,1109.7 1947.1,1125.1 1951.3,1141.7 1957.2,1160.6 1965.5,1180.8 1977.3,1202.1 1988.6,1217.5 1992.1,1226.4 1988.6,1230.5 1988,1240 1989,1245.7 1993.6,1259.4 2001.6,1275.4 2008.7,1288.7 2014.4,1301.7 2018.8,1316.2 2021,1330.7 2018.8,1361 2017.3,1379.9 2016.6,1392.9 2014.7,1399.4 2014.4,1395.1 2011.5,1395.8 2008.7,1401.6 2005,1410.2 2004.3,1419.7 1998.5,1424 1992.7,1427.6 1988.4,1429.8 1982.6,1432 1975.4,1430.5 1973.9,1432 1964.5,1433.4 1960.2,1430.5 1957.3,1424.7 1960.2,1421.1 1958.7,1414.6 1954.4,1405.9 1950.8,1398.7 1947.9,1392.2 1943.5,1387.8 1936.3,1385.6 1931.2,1386.4 1929.1,1388.5 1926.2,1381.3 1923.3,1374.1 1921.1,1366.8 1919.7,1358.9 1914.6,1352.4 1908.8,1348 1905.9,1352.4 1900.1,1348 1895.8,1336.4 1895.8,1330.7 1891.4,1322 1887.1,1314.7 1881.3,1303.2 1876.2,1293.7 1872.6,1288.7 1869,1283.6 1869.1,1284.5 1877.1,1277.7 1870.2,1277.7 1864.5,1259.4 1863.4,1243.4 1872.5,1228.1 1874.3,1219.8 1874.9,1210.4 1875.5,1200.9 1872.5,1197.3 1870.8,1191.4 1867.2,1188.5 1866,1183.7 1858.9,1182 1853,1183.7 1851.2,1177.2 1847.1,1173.7 1843.5,1166.6 1839.4,1164.8 1834,1159.5 1834.6,1150.6 1829.3,1148.2 1827.4,1146.5 1824.4,1142.4 1820.9,1135.2 1815,1131.7 1807.9,1128.1 1801.9,1123.4 1793.6,1125.2 1788.9,1123.4 1784.2,1125.8 1782.4,1129.3 1784.2,1132.9 1782.4,1135.2 1779.4,1132.9 1773.5,1134.1 1762.9,1138.8 1754,1144.7 1753.4,1141.8 1747.5,1143.5 1742.7,1142.4 1735.6,1146.5 1735,1147.7 1729.7,1147.7 1730.9,1144.7 1730.3,1140 1727.9,1135.2 1726.2,1131.7 1721.4,1129.3 1716.7,1124.6 1709.6,1121 1703.7,1116.3 1694.8,1111 1684.7,1106.8 1672.9,1102.7 1658.7,1100.3 1644.5,1100.9 1627.9,1103.3 1611.9,1105.4"/>
<polyline points="1729.7,1147.7 1727.9,1149.5 1725.6,1142.4 1725,1136.4 1726.2,1135.2"/>
<polyline points="1735,1147.7 1743.9,1154.2 1747.5,1153 1755.8,1149.5 1762.9,1144.7 1764.6,1142.9"/>
<polyline points="1736.8,1147.1 1740.4,1150 1742.1,1147.7 1738,1145.9"/>
<polyline points="1874.8,1245.7 1874.8,1252.5 1870.2,1259.4 1872.5,1266.2 1878.2,1268.5 1879.4,1262.8 1886.2,1260.5 1887.4,1266.2 1881.6,1270.8 1877.1,1277.7"/>
<polyline points="1865.6,1249.1 1863.4,1262.8 1865.6,1265.1"/>
<polyline points="1895.8,1330.7 1900.8,1329.9 1901.6,1323.4 1904.5,1319.8 1907.4,1320.5 1906.6,1327.8 1903.7,1331.4 1904.5,1336.4 1900.8,1337.2 1903,1343.7 1905.9,1349.5"/>
</g>
<g class="c" stroke-width="1.8">
<polyline points="2014.2,1408.1 2012.3,1415.3 2007.9,1422.5 2005,1425.4"/>
<polyline points="2003.6,1427.6 1997.1,1435.6 1988.4,1444.3 1979.7,1451.5 1968.1,1457.3 1960.9,1460.2"/>
</g>
<g class="c">
<polyline points="1631.4,1061.8 1626.1,1067.8 1624.9,1077.2 1627.9,1085.5 1633.2,1091.4 1632.6,1097.4 1627.9,1099.7 1627.9,1102.7"/>
<polyline points="1653.9,1063.3 1651.6,1100.3"/>
<polyline points="1675.2,1064.2 1673.5,1102.1"/>
<polyline points="1694.2,1065.2 1693.6,1082 1701.9,1082.6 1703.7,1077.8 1708.4,1077.8 1709.6,1080.2 1715.5,1080.2 1717.3,1075.5 1720.8,1066.6"/>
<polyline points="1701.9,1082.6 1699.5,1087.9 1701.3,1092.6 1701.9,1096.8 1696.6,1099.7 1694.8,1102.1 1694.8,1109.2"/>
<polyline points="1701.3,1098.5 1722,1099.7 1722.6,1092.6 1726.2,1092 1725.6,1078.4 1723.8,1077.8 1723.2,1075.5 1717.9,1075.1"/>
<polyline points="1726.2,1092 1739.8,1091.4 1740.4,1090.8 1753.4,1090.3 1756.9,1084.3"/>
<polyline points="1727.9,1092.6 1727.3,1131.7"/>
<polyline points="1727.9,1114.9 1742.7,1114.9"/>
<polyline points="1753.4,1090.3 1748.7,1099.7 1745.1,1109.2 1741.6,1117.5 1740.4,1123.4 1743.9,1128.7 1747.5,1127.6 1745.7,1131.7 1746.3,1140 1736.8,1144.7"/>
<polyline points="1747.5,1127.6 1770,1128.1"/>
<polyline points="1754,1091.4 1755.8,1095 1760.5,1096.8 1762.9,1100.9 1765.2,1104.5 1764,1110.4 1766.4,1118.7 1771.2,1127 1775.9,1130.5 1780.6,1131.7"/>
<polyline points="1765.2,1104.5 1772.3,1100.9 1779.4,1099.7 1782.4,1095 1786.5,1087.9"/>
<polyline points="1764,1110.4 1790.1,1110.6 1790.1,1112.2 1798.4,1112.2"/>
<polyline points="1803.1,1087.9 1803.7,1097.4 1799.6,1098.5 1798.4,1112.2 1799,1122.8"/>
<polyline points="1823.8,1089.7 1822.1,1095 1817.3,1097.4 1816.1,1104.5 1812.6,1106.8 1813.2,1110.4 1807.9,1113.9 1803.1,1123.4"/>
<polyline points="1813.2,1110.6 1830,1110.6"/>
<polyline points="1823.4,1090.2 1822.2,1094.3 1817.5,1096.7 1816.3,1103.8 1813.3,1107.4 1812.7,1110.3 1808,1113.3"/>
<polyline points="1812.7,1110.3 1831.1,1110.9 1831.7,1113.9 1843.5,1113.9"/>
<polyline points="1842.3,1092 1844.1,1100.3 1845.9,1104.4 1845.9,1106.8 1843.5,1112.1 1843.5,1119.2 1845.9,1123.9 1851.8,1125.7 1857.7,1131 1860.7,1137 1867.2,1134 1867.8,1109.7 1871.9,1109.7 1876.1,1105.6 1872.5,1099.1 1871.9,1094.3"/>
<polyline points="1845.9,1104.4 1853,1102.6 1860.1,1104.4 1867.2,1109.1"/>
<polyline points="1837,1114.5 1836.4,1137 1837.6,1140.5 1860.1,1140.5"/>
<polyline points="1837.6,1141.7 1835.8,1150"/>
<polyline points="1885.6,1094.3 1885.6,1121.6 1907.5,1121.6"/>
<polyline points="1907.5,1108 1908,1112.1 1908.6,1161.8"/>
<polyline points="1908.6,1112.1 1925.2,1095.5 1931.1,1093.7 1935.9,1096.1 1939.4,1094.9 1941.8,1097.9"/>
<polyline points="1908.6,1118.6 1927.6,1118.6 1928.2,1122.8 1940.6,1123.9 1940.6,1115.1 1943,1114.5"/>
<polyline points="1928.2,1122.8 1927.6,1128.7 1931.7,1133.4 1932.3,1139.3 1935.9,1146.4 1937.1,1160.6 1939.4,1168.3 1930,1171.3"/>
<polyline points="1903.3,1121.6 1899.2,1128.7 1892.1,1134 1885,1134 1880.2,1131 1881.4,1126.3 1886.1,1122.2"/>
<polyline points="1888.5,1137 1895.6,1140.5 1902.7,1141.7 1908,1146.4"/>
<polyline points="1908.6,1147 1914.6,1144.7 1920.5,1141.1 1932.3,1140.5"/>
<polyline points="1860.7,1137 1858.9,1150 1857.7,1155.9 1874.3,1157.7"/>
<polyline points="1874.9,1140.5 1875.5,1158.3 1879.6,1158.9 1880.8,1161.8 1899.2,1162.4 1899.8,1165.4 1906.3,1164.8 1908,1161.2"/>
<polyline points="1867.2,1134 1870.8,1138.1 1874.9,1140.5 1880.2,1134.6"/>
<polyline points="1857.7,1155.9 1855.4,1164.2 1851.8,1170.1 1847.1,1172.5"/>
<polyline points="1888.5,1163 1888.5,1179 1881.4,1179.3 1880.8,1189.6"/>
<polyline points="1908,1161.8 1914.6,1160.6 1919.3,1160.6 1922.8,1165.4 1926.4,1170.1 1930,1171.9 1929.4,1176.6 1928.8,1194.4 1895,1195"/>
<polyline points="1937.6,1153.5 1948.9,1151.8 1953,1150.6"/>
<polyline points="1939.4,1168.3 1942.4,1167.7 1943,1176 1957.2,1175.4 1957.8,1166.6 1959.6,1166"/>
<polyline points="1930,1176.6 1935.9,1182 1940.6,1187.9 1945.3,1192.6 1945.3,1201.5 1943,1202.1"/>
<polyline points="1870.8,1191.4 1879,1190.2 1885,1189.6 1890.9,1193.8 1895,1195.6 1896.8,1200.3 1900.9,1205 1896.8,1212.7 1898,1217.5 1902.7,1219.8 1907.5,1221.6 1908,1235.2"/>
<polyline points="1875.5,1211.6 1887.3,1211.6 1888.5,1213.3 1896.2,1213.3"/>
<polyline points="1873.7,1227.5 1896.2,1227.5 1896.8,1225.2 1907.5,1224.6"/>
<polyline points="1912.8,1195.6 1912.8,1234"/>
<polyline points="1913.4,1233.5 1921.7,1232.3 1929.4,1233.5 1972.6,1232.9"/>
<polyline points="1929.4,1240 1930,1205.6 1943,1205.6 1943,1202.1 1950.1,1202.7 1954.8,1204.4 1960.7,1203.3 1965.5,1215.1"/>
<polyline points="1943,1206.8 1940,1211.6 1940.6,1215.1 1947.7,1216.3 1966.7,1216.3 1972,1224.6 1973.2,1240"/>
<polyline points="1967.2,1215.7 1967.2,1205.6 1979.1,1205"/>
<polyline points="1865.6,1244.1 1906.8,1244.1 1907.9,1276.7"/>
<polyline points="1879.4,1277.2 1978.8,1276.5"/>
<polyline points="1973.1,1240 1973.1,1276.1"/>
<polyline points="1973.1,1266.2 1994.8,1265.1"/>
<polyline points="1931.9,1238.8 1938.8,1248 1945.6,1257.1 1954.8,1268.5 1958.2,1277.7"/>
<polyline points="1939.9,1249.1 1945.6,1248.4 1944.5,1254.8"/>
<polyline points="1907.9,1235.2 1906.8,1244.1"/>
<polyline points="1908.1,1276.4 1907.4,1314.7"/>
<polyline points="1935.6,1276.4 1934.8,1330.7 1935.6,1347.3"/>
<polyline points="1876.2,1293.7 1897.2,1293 1897.2,1303.9 1907.4,1303.9"/>
<polyline points="1908.1,1295.6 1934.1,1295.2"/>
<polyline points="1891.4,1321.2 1895.8,1320.5 1895.8,1315.5 1951.5,1314.4 1951.5,1309.7 1957.3,1309.7 1957.3,1304.6 1971,1303.9"/>
<polyline points="1907.4,1331.4 1969.6,1330.7 1973.2,1319.1"/>
<polyline points="1958.1,1277.7 1955.8,1284.3 1959.5,1293 1965.2,1298.8 1968.1,1302.4 1973.2,1306.8 1973.9,1318.4 1973.2,1362.5 1973.9,1381.3 1975.4,1430.5"/>
<polyline points="1973.9,1318.4 1984.1,1309.7 1984.8,1282.2 1979,1281.7 1979,1276.8 1973.2,1276.8"/>
<polyline points="1984.8,1303.9 2005,1303.2 2005.8,1299.5 2010.1,1299.5"/>
<polyline points="1973.9,1319.1 2017.3,1318.4"/>
<polyline points="1973.9,1358.9 2018.1,1358.1"/>
<polyline points="1973.9,1381.3 2016.6,1379.9"/>
<polyline points="1935.6,1347.3 1951.5,1346.9 1952.2,1363.6 1973.2,1362.9"/>
<polyline points="1935.6,1347.3 1935.6,1352.4 1930.5,1353.1 1929.8,1359.3 1921.1,1359.3"/>
<polyline points="1973.2,1391.4 1947.9,1392.2"/>
</g>
</g>
<g id="frame">
<rect x="1567.5" y="1019.5" width="490" height="510" fill="none" stroke="#4C0073" stroke-width="4.6"/>
<rect x="1.4" y="1.3" width="2045.3" height="1517.3" fill="none" stroke="#4C0073" stroke-width="2.8"/>
</g>

</svg>
</body></html>
